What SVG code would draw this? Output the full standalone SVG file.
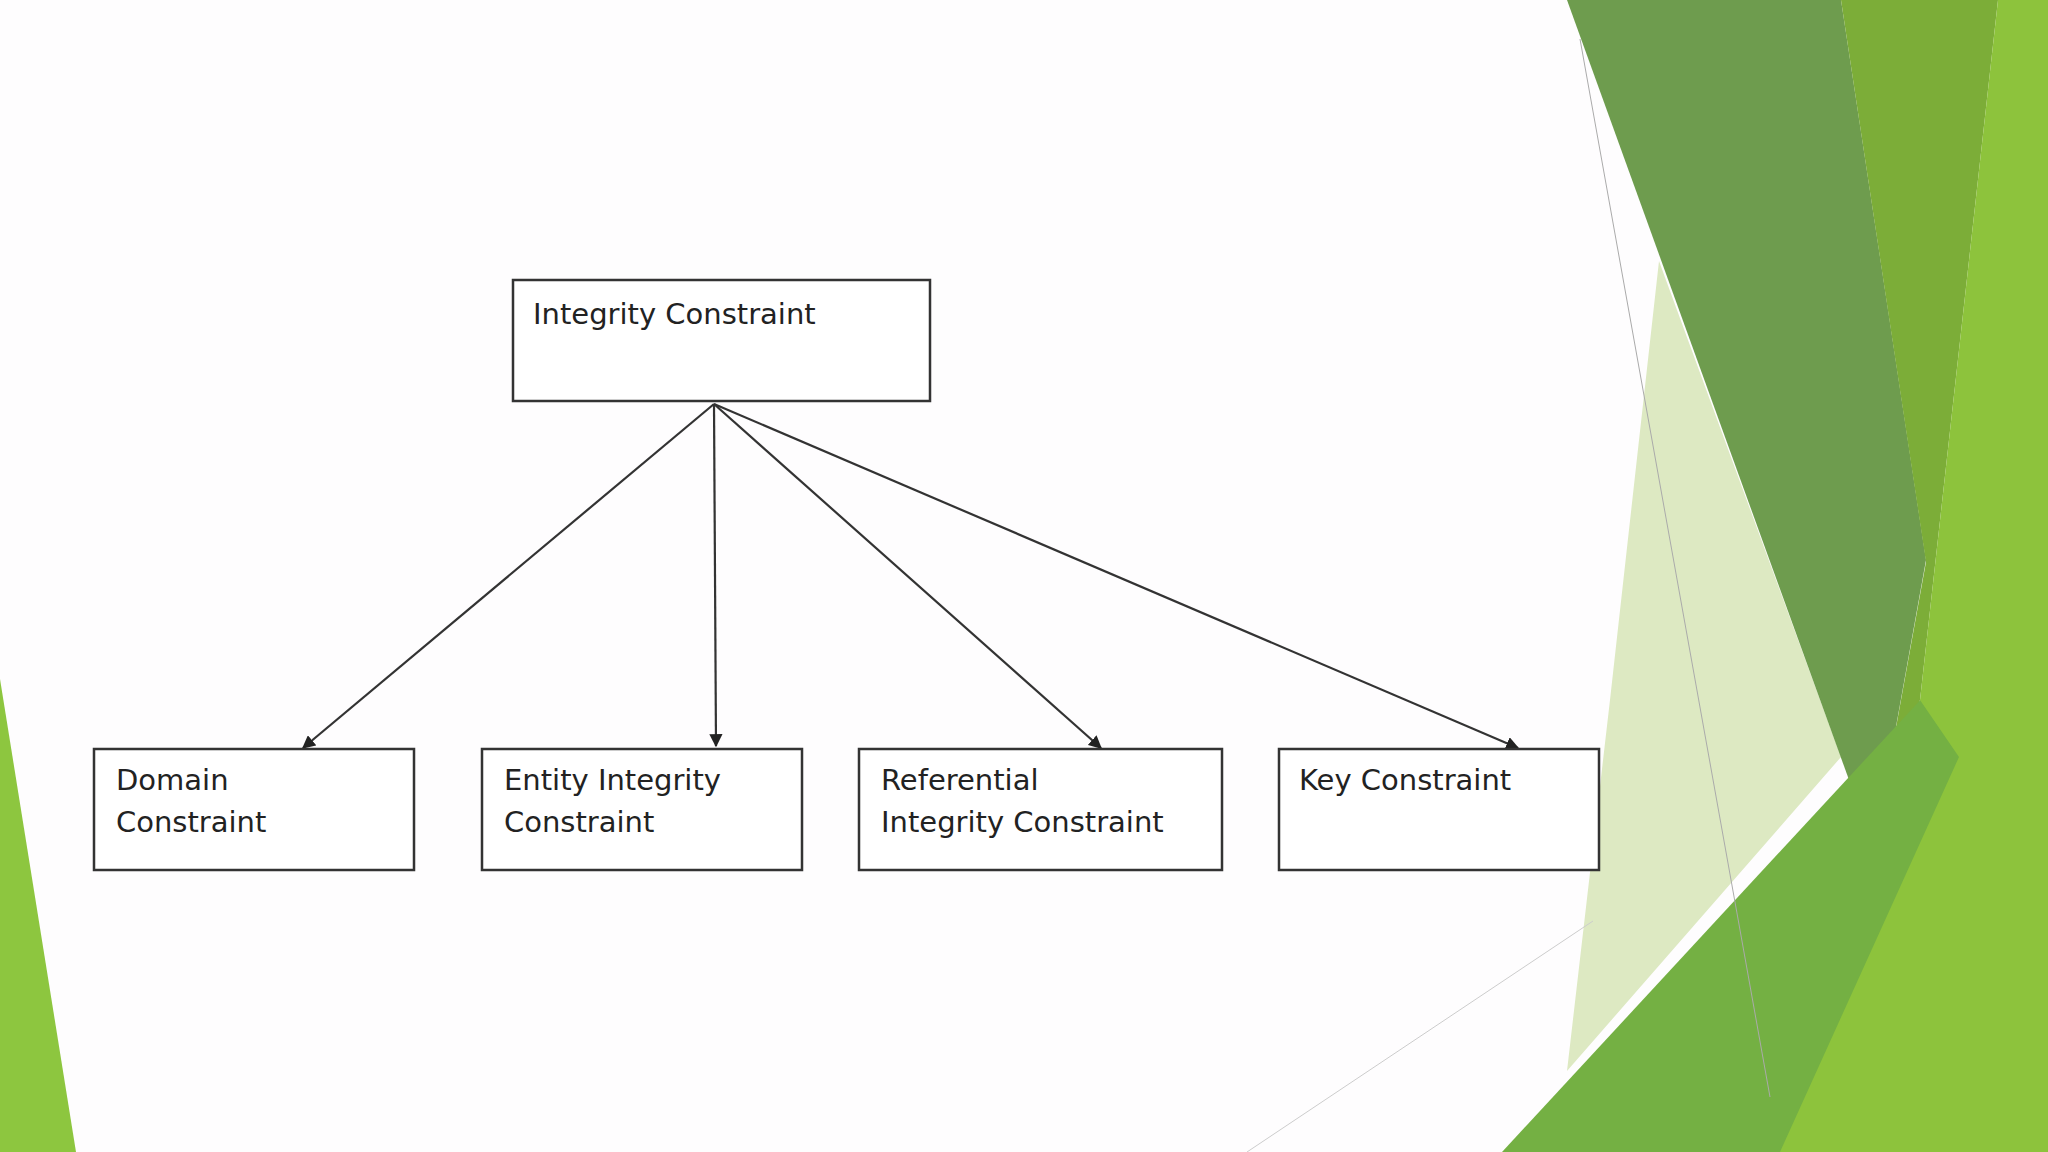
<svg xmlns="http://www.w3.org/2000/svg" width="2048" height="1152" viewBox="0 0 2048 1152">
<defs>
<style>
.box{fill:#fff;stroke:#333;stroke-width:2.5}
.t{font-family:"DejaVu Sans",Verdana,sans-serif;font-size:29px;fill:#222}
.c{stroke:#333;stroke-width:2.2;fill:none;marker-end:url(#a)}
</style>
<marker id="a" viewBox="0 0 10 10" refX="9" refY="5" markerWidth="6" markerHeight="6" orient="auto"><path d="M0,0L10,5L0,10z" fill="#222"/></marker>
</defs>
<rect width="2048" height="1152" fill="#fefdfe"/>
<g id="background">
<polygon points="1659,261 1841,757 1567,1071 1610,700" fill="#dde9c2"/>
<polygon points="1567,0 1841,0 1926,560 1874,849" fill="#6e9c4e"/>
<polygon points="1841,0 1998,0 1920,700 1874,849 1926,562" fill="#7cad38"/>
<polygon points="1502,1152 2048,562 2048,1152" fill="#74b043"/>
<polygon points="1998,0 2048,0 2048,1152 1780,1152 1959,757 1920,700" fill="#8dc33c"/>
<polygon points="0,679 76,1152 0,1152" fill="#8dc63f"/>
<line x1="1580" y1="39" x2="1770" y2="1097" stroke="#aaa" stroke-width="1"/>
<line x1="1593" y1="921" x2="1247" y2="1152" stroke="#ccc" stroke-width="1"/>
</g>
<g id="connectors">
<line class="c" x1="714" y1="404" x2="303" y2="748"/>
<line class="c" x1="714" y1="404" x2="716" y2="746"/>
<line class="c" x1="714" y1="404" x2="1101" y2="748"/>
<line class="c" x1="714" y1="404" x2="1518" y2="748"/>
</g>
<g id="integrity"><rect class="box" x="513" y="280" width="417" height="121"/><text class="t" x="533" y="324">Integrity Constraint</text></g>
<g id="domain"><rect class="box" x="94" y="749" width="320" height="121"/><text class="t" x="116" y="790">Domain</text><text class="t" x="116" y="832">Constraint</text></g>
<g id="entity"><rect class="box" x="482" y="749" width="320" height="121"/><text class="t" x="504" y="790">Entity Integrity</text><text class="t" x="504" y="832">Constraint</text></g>
<g id="referential"><rect class="box" x="859" y="749" width="363" height="121"/><text class="t" x="881" y="790">Referential</text><text class="t" x="881" y="832">Integrity Constraint</text></g>
<g id="key"><rect class="box" x="1279" y="749" width="320" height="121"/><text class="t" x="1299" y="790">Key Constraint</text></g>
</svg>
